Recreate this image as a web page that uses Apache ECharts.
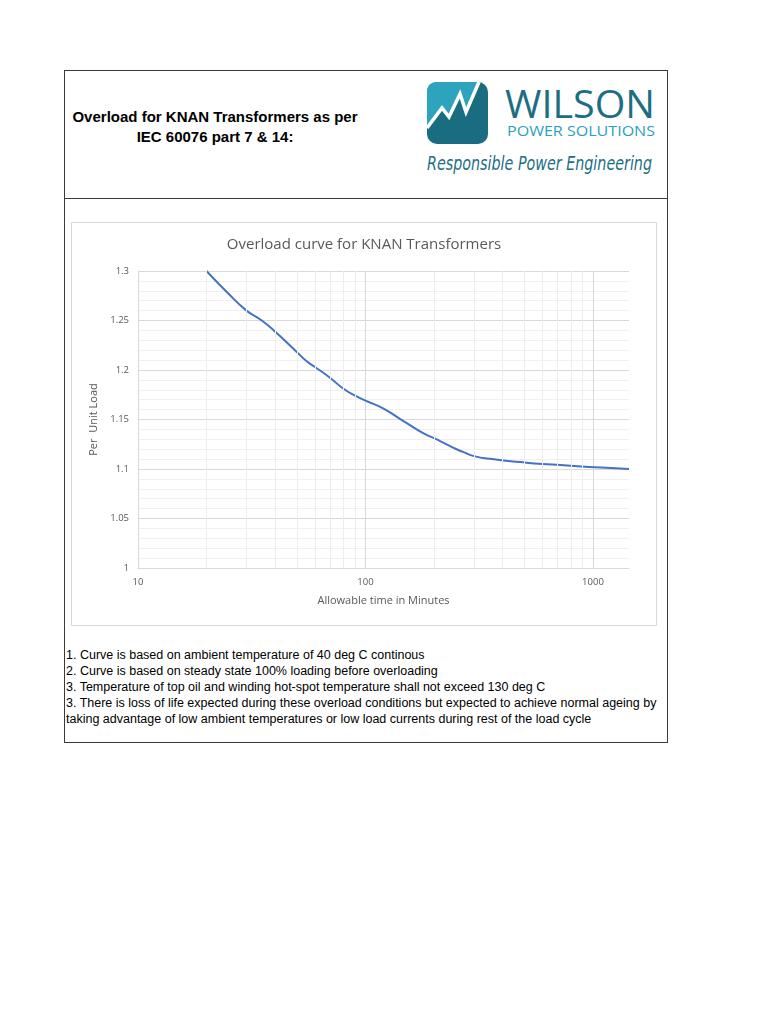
<!DOCTYPE html>
<html>
<head>
<meta charset="utf-8">
<script src="https://cdn.jsdelivr.net/npm/echarts@6/dist/echarts.min.js"></script>
<style>
  html, body { margin: 0; padding: 0; background: #fff; }
  body { width: 768px; height: 1024px; position: relative; overflow: hidden; font-family: "Liberation Sans", Arial, sans-serif; }
  #frame { position: absolute; left: 64px; top: 70px; width: 602px; height: 671px; border: 1px solid #3a3a3a; }
  #divider { position: absolute; left: 64px; top: 198px; width: 604px; height: 1px; background: #3a3a3a; }
  #head { position: absolute; left: 64px; top: 107px; width: 302px; text-align: center; font-weight: bold; font-size: 15px; line-height: 20px; color: #000; }
  #chart { position: absolute; left: 71px; top: 222px; width: 584px; height: 402px; border: 1px solid #d9d9d9; }
  #notes { position: absolute; left: 66px; top: 647px; font-size: 12.5px; line-height: 16px; color: #000; white-space: nowrap; }
  #logo { position: absolute; left: 0; top: 0; }
</style>
</head>
<body>
<div id="frame"></div>
<div id="divider"></div>
<div id="head">Overload for KNAN Transformers as per<br>IEC 60076 part 7 &amp; 14:</div>
<svg id="logo" width="768" height="200" viewBox="0 0 768 200">
  <rect x="427" y="82" width="61" height="62" rx="10" ry="10" fill="#1a6c80"/>
  <path d="M437 82 L479 82 L466 112 L460 94 L449 117 L442 108 L427 128 L427 92 Q427 82 437 82 Z" fill="#2ea3bd"/>
  <polyline points="427,128 442,108 449,117 460,94 466,112 479,82" fill="none" stroke="#ffffff" stroke-width="3.5" stroke-linejoin="miter"/>
  <text x="505" y="118" font-family="Open Sans, DejaVu Sans, sans-serif" font-size="38" fill="#1c6f83" textLength="150" lengthAdjust="spacingAndGlyphs">WILSON</text>
  <text x="507" y="136" font-family="Open Sans, DejaVu Sans, sans-serif" font-size="15" fill="#2aa0bd" textLength="148" lengthAdjust="spacingAndGlyphs">POWER SOLUTIONS</text>
  <text x="427" y="170" font-family="DejaVu Sans, sans-serif" font-style="italic" font-size="19" fill="#1c6f83" textLength="225" lengthAdjust="spacingAndGlyphs">Responsible Power Engineering</text>
</svg>
<div id="chart"></div>
<div id="notes">
  <div>1. Curve is based on ambient temperature of 40 deg C continous</div>
  <div>2. Curve is based on steady state 100% loading before overloading</div>
  <div>3. Temperature of top oil and winding hot-spot temperature shall not exceed 130 deg C</div>
  <div>3. There is loss of life expected during these overload conditions but expected to achieve normal ageing by</div>
  <div>taking advantage of low ambient temperatures or low load currents during rest of the load cycle</div>
</div>
<script>
// Allowable time in minutes and per-unit load
const times = [20, 25, 30, 35, 40, 45, 50, 55, 60, 70, 80, 90, 100, 120, 150, 180, 210, 240, 270, 300, 360, 480, 600, 720, 960, 1200, 1440];
const loads = [1.300, 1.277, 1.260, 1.250, 1.239, 1.228, 1.218, 1.209, 1.203, 1.192, 1.181, 1.174, 1.169, 1.161, 1.147, 1.136, 1.129, 1.122, 1.117, 1.113, 1.110, 1.107, 1.105, 1.104, 1.102, 1.101, 1.100];
// Minor (log) vertical gridline positions
const minorTimes = [20, 30, 40, 50, 60, 70, 80, 90, 200, 300, 400, 500, 600, 700, 800, 900];

const chart = echarts.init(document.getElementById('chart'));
const font = '"Open Sans", "DejaVu Sans", sans-serif';
chart.setOption({
  animation: false,
  title: {
    text: 'Overload curve for KNAN Transformers',
    left: 'center', top: 9,
    textStyle: { fontFamily: font, fontSize: 15, fontWeight: 'normal', color: '#595959' }
  },
  grid: { left: 66, right: 27, top: 48, bottom: 57 },
  xAxis: {
    type: 'log', logBase: 10, min: 10, max: 1440,
    name: 'Allowable time in Minutes', nameLocation: 'middle', nameGap: 27,
    nameTextStyle: { fontFamily: font, fontSize: 11, color: '#595959' },
    axisLine: { show: true, lineStyle: { color: '#d9d9d9', width: 1 } },
    axisTick: { show: false },
    axisLabel: { fontFamily: font, fontSize: 9.5, color: '#595959', margin: 9, showMaxLabel: false,
      formatter: v => String(Math.round(v)) },
    splitLine: { show: true, showMinLine: true, showMaxLine: false, lineStyle: { color: '#d9d9d9', width: 1 } }
  },
  yAxis: {
    type: 'value', min: 1, max: 1.3, interval: 0.05,
    name: 'Per  Unit Load', nameLocation: 'middle', nameGap: 33,
    nameTextStyle: { fontFamily: font, fontSize: 11, color: '#595959' },
    axisLine: { show: false },
    axisTick: { show: false },
    axisLabel: { fontFamily: font, fontSize: 9.5, color: '#595959', margin: 9 },
    splitLine: { show: true, lineStyle: { color: '#d9d9d9', width: 1 } },
    minorTick: { show: false, splitNumber: 5 },
    minorSplitLine: { show: true, lineStyle: { color: '#f0f0f0', width: 1 } }
  },
  series: [
    {
      type: 'line', data: [], z: 1, silent: true,
      markLine: {
        silent: true, symbol: 'none', label: { show: false },
        lineStyle: { color: '#ededed', width: 1, type: 'solid' },
        data: minorTimes.map(t => ({ xAxis: t }))
      }
    },
    {
      type: 'line', z: 3,
      data: times.map((t, i) => [t, loads[i]]),
      showSymbol: false, smooth: 0.5,
      lineStyle: { color: '#4472c4', width: 2 }
    }
  ]
});
</script>
</body>
</html>
